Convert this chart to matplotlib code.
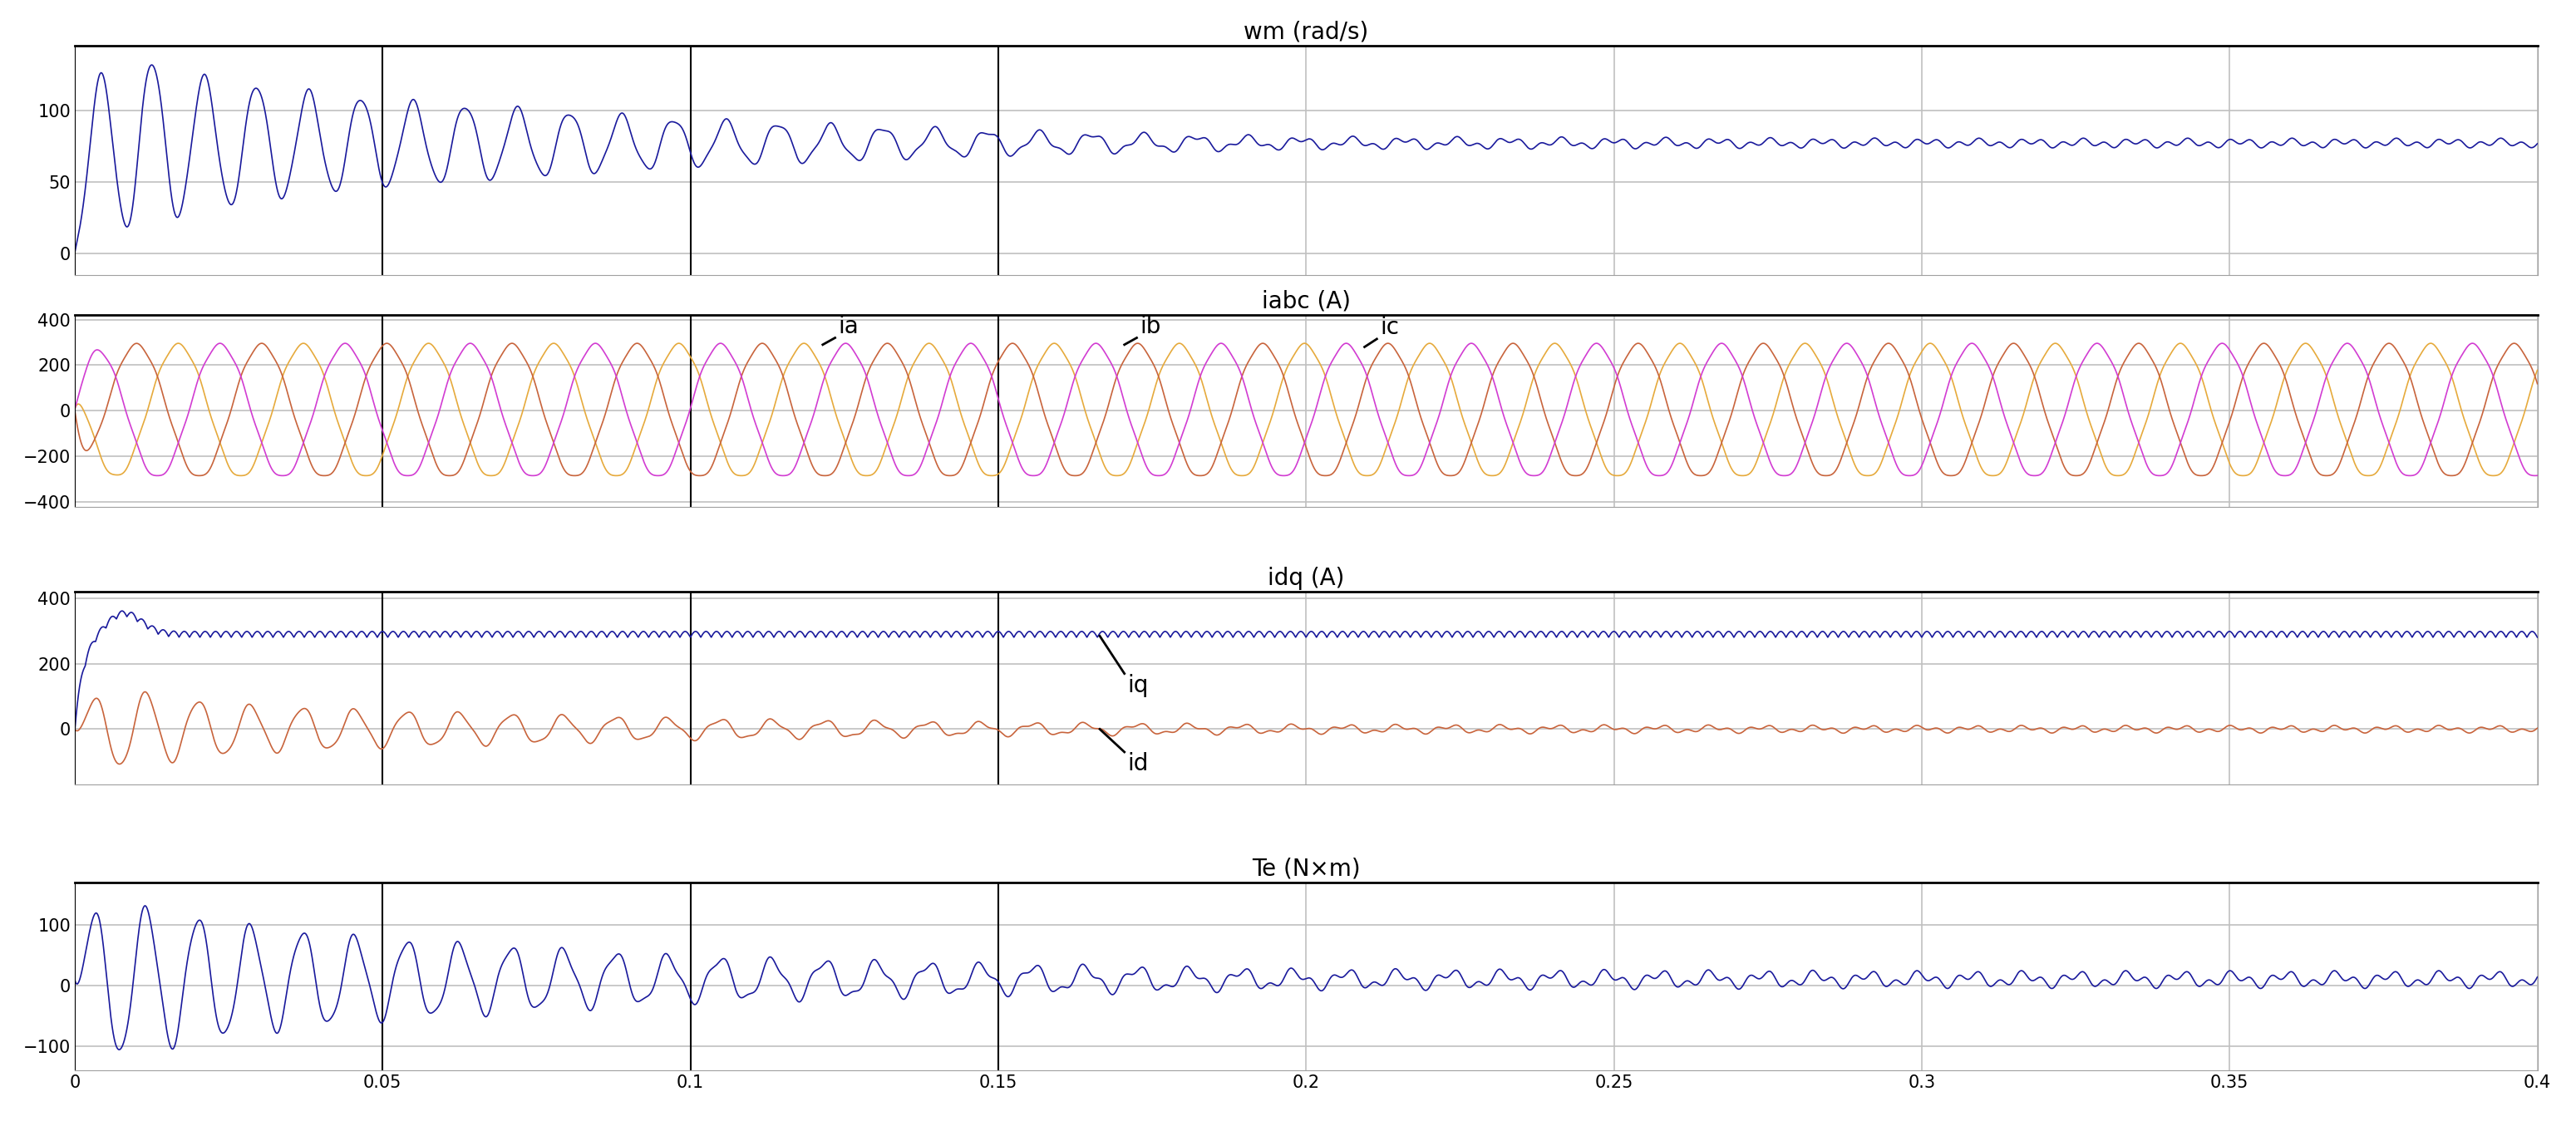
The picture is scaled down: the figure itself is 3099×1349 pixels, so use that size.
import numpy as np
import matplotlib.pyplot as plt

# time axis of the scope
t = np.linspace(0, 0.4, 16000)

# envelope knots (time, value)
env_t = [0.0, 0.004, 0.01, 0.02, 0.03, 0.05, 0.1, 0.15, 0.2, 0.3, 0.4]
wm_amp = [50, 55, 60, 47, 40, 30, 16, 8, 3, 1.5, 1.5]
id_amp = [90, 110, 115, 85, 70, 55, 30, 18, 10, 6, 6]
te_amp = [120, 125, 120, 100, 85, 65, 35, 22, 12, 8, 8]
wm_mean = 77
te_mean = 10
iq_level = 290
iq_peak = 355
iabc_amp = 290
f_mech = 118   # speed / torque oscillation, Hz
f_elec = 49.2  # phase current frequency, Hz
f_rip = 295    # ripple, Hz
ia_peak_time = 0.0236

blue = '#1a1a9c'
brown = '#c8643c'
magenta = '#d23cd2'
yellow = '#e6aa3c'

start = 1 - np.exp(-t / 0.0015)
osc = np.sin(2 * np.pi * f_mech * (t - 0.002))
rip = np.sin(2 * np.pi * f_rip * t)

wm = wm_mean * start + np.interp(t, env_t, wm_amp) * osc * start + 2 * rip
idd = np.interp(t, env_t, id_amp) * np.sin(2 * np.pi * f_mech * (t - 0.001)) * start + 6 * rip
iq = iq_level * start + (iq_peak - iq_level) * np.exp(-((t - 0.008) / 0.004) ** 2) + 18 * np.abs(rip) - 9
te = te_mean + np.interp(t, env_t, te_amp) * np.sin(2 * np.pi * f_mech * (t - 0.001)) * start + 7 * rip

ph = 2 * np.pi * f_elec * (t - ia_peak_time)
ic = iabc_amp * np.cos(ph) * start + 6 * np.cos(6 * ph)
ib = iabc_amp * np.cos(ph - 2 * np.pi / 3) * start + 6 * np.cos(6 * ph)
ia = iabc_amp * np.cos(ph - 4 * np.pi / 3) * start + 6 * np.cos(6 * ph)

fig = plt.figure(figsize=(30.99, 13.49), dpi=100)
rects = [(0.029, 0.755, 0.956, 0.204), (0.029, 0.548, 0.956, 0.171),
         (0.029, 0.300, 0.956, 0.172), (0.029, 0.045, 0.956, 0.168)]
titles = ['wm (rad/s)', 'iabc (A)', 'idq (A)', 'Te (N×m)']
ylims = [(-15, 145), (-420, 420), (-170, 420), (-140, 170)]
yticks = [[0, 50, 100], [-400, -200, 0, 200, 400], [0, 200, 400], [-100, 0, 100]]
axes = []
for r, title, yl, yt in zip(rects, titles, ylims, yticks):
    ax = fig.add_axes(r)
    ax.set_xlim(0, 0.4)
    ax.set_ylim(*yl)
    ax.set_yticks(yt)
    ax.set_xticks(np.arange(0, 0.401, 0.05))
    ax.set_title(title, fontsize=20, pad=6)
    ax.grid(True, color='#c0c0c0', lw=1.2, zorder=0)
    ax.set_axisbelow(True)
    for x in (0.05, 0.1, 0.15):
        ax.axvline(x, color='black', lw=1.5, zorder=1.5)
    ax.tick_params(labelsize=15, length=0)
    for s in ax.spines.values():
        s.set_color('#a0a0a0')
    ax.spines['top'].set_color('black')
    ax.spines['left'].set_color('black')
    ax.spines['top'].set_linewidth(2)
    if len(axes) < 3:
        ax.set_xticklabels([])
    else:
        ax.set_xticklabels(['0', '0.05', '0.1', '0.15', '0.2', '0.25', '0.3', '0.35', '0.4'])
    axes.append(ax)

axes[0].plot(t, wm, color=blue, lw=1.2, zorder=2)
axes[1].plot(t, ia, color=yellow, lw=1.2, zorder=2)
axes[1].plot(t, ib, color=brown, lw=1.2, zorder=2)
axes[1].plot(t, ic, color=magenta, lw=1.2, zorder=2)
axes[2].plot(t, iq, color=blue, lw=1.2, zorder=2)
axes[2].plot(t, idd, color=brown, lw=1.2, zorder=2)
axes[3].plot(t, te, color=blue, lw=1.2, zorder=2)

for ax, name, x0, y0, x1, y1 in [(axes[1], 'ia', 0.1215, 290, 0.1235, 320),
                                 (axes[1], 'ib', 0.1705, 290, 0.1725, 320),
                                 (axes[1], 'ic', 0.2095, 280, 0.2115, 315),
                                 (axes[2], 'iq', 0.1665, 285, 0.1705, 170),
                                 (axes[2], 'id', 0.1665, 0, 0.1705, -70)]:
    ax.plot([x0, x1], [y0, y1], color='black', lw=2, zorder=3)
    va = 'bottom' if y1 > y0 else 'top'
    ax.text(x1 + 0.0005, y1, name, fontsize=20, va=va, ha='left')

fig.savefig('out.png', dpi=100, facecolor='white')
